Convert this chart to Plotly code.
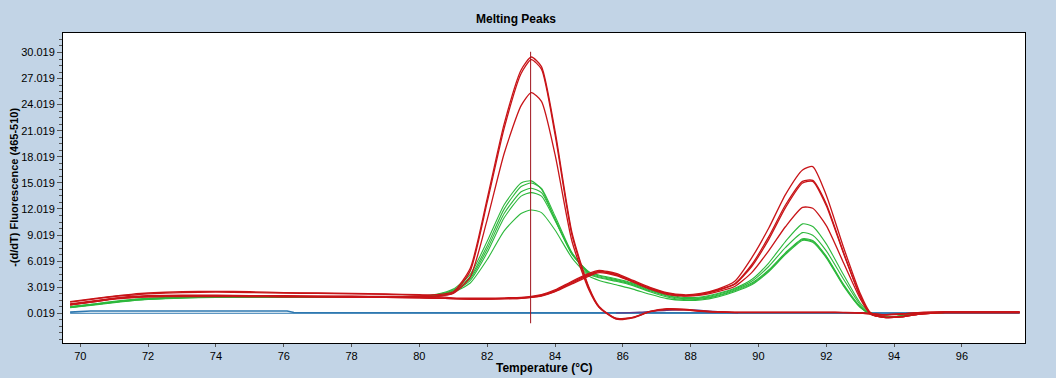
import plotly.graph_objects as go

# ---- data ----
T = [69.7, 70.5, 71.0, 71.5, 72.0, 73.0, 74.0, 75.0, 76.0, 77.0, 78.0, 79.0, 80.0, 80.5,
     81.0, 81.5, 82.0, 82.5, 83.0, 83.3, 83.6, 84.0, 84.5, 85.0, 85.3, 85.8, 86.3, 86.8,
     87.3, 87.8, 88.3, 88.8, 89.3, 89.8, 90.3, 90.8, 91.3, 91.6, 92.0, 92.5, 93.0, 93.3,
     93.7, 94.2, 94.7, 95.5, 96.5, 97.7]

red_a1 = [1.35, 1.75, 2.0, 2.2, 2.35, 2.5, 2.55, 2.5, 2.4, 2.35, 2.3, 2.25, 2.15, 2.15, 2.5,
          5.2, 13.2, 21.8, 28.0, 29.5, 28.4, 21.0, 9.3, 3.0, 0.8, -0.6, -0.45, 0.25, 0.55, 0.5,
          0.3, 0.2, 0.15, 0.15, 0.15, 0.15, 0.15, 0.15, 0.15, 0.12, 0.08, 0.0, -0.15, -0.05,
          0.1, 0.2, 0.2, 0.2]
red_a2 = [1.0, 1.45, 1.7, 1.9, 2.0, 2.05, 2.05, 2.0, 2.0, 1.95, 1.95, 1.9, 1.9, 1.95, 2.35,
          4.9, 12.8, 21.3, 27.6, 29.2, 28.1, 20.6, 9.0, 2.9, 0.7, -0.65, -0.5, 0.2, 0.5, 0.45,
          0.28, 0.18, 0.12, 0.12, 0.12, 0.12, 0.12, 0.12, 0.12, 0.1, 0.05, -0.05, -0.2, -0.1,
          0.05, 0.15, 0.15, 0.15]
red_a3 = [1.1, 1.5, 1.75, 1.95, 2.05, 2.1, 2.1, 2.05, 2.05, 2.0, 2.0, 1.95, 1.95, 2.0, 2.3,
          4.2, 10.8, 18.4, 23.9, 25.4, 24.4, 18.3, 8.3, 2.7, 0.7, -0.55, -0.45, 0.2, 0.45, 0.4,
          0.25, 0.15, 0.1, 0.1, 0.1, 0.1, 0.1, 0.1, 0.1, 0.1, 0.05, -0.05, -0.15, -0.05,
          0.05, 0.15, 0.15, 0.15]

red_b1 = [1.3, 1.7, 1.95, 2.1, 2.25, 2.4, 2.45, 2.4, 2.35, 2.3, 2.25, 2.2, 2.1, 1.95, 1.8,
          1.75, 1.75, 1.8, 1.85, 1.95, 2.15, 2.7, 3.7, 4.6, 4.95, 4.6, 3.8, 3.0, 2.4, 2.15,
          2.3, 2.8, 3.7, 6.4, 9.8, 13.7, 16.5, 16.9, 13.6, 7.7, 2.3, 0.1, -0.4, -0.35, -0.05,
          0.15, 0.15, 0.15]
red_b2 = [1.0, 1.4, 1.7, 1.85, 1.95, 2.0, 2.0, 2.0, 1.95, 1.95, 1.9, 1.9, 1.85, 1.8, 1.7,
          1.65, 1.65, 1.7, 1.8, 1.9, 2.1, 2.6, 3.6, 4.5, 4.85, 4.5, 3.7, 2.9, 2.3, 2.05,
          2.2, 2.7, 3.4, 5.6, 8.8, 12.5, 15.2, 15.3, 12.6, 7.1, 2.0, 0.0, -0.45, -0.4, -0.1,
          0.1, 0.1, 0.1]
red_b3 = [1.05, 1.45, 1.7, 1.85, 1.95, 2.0, 2.0, 1.95, 1.95, 1.9, 1.9, 1.85, 1.8, 1.75, 1.7,
          1.65, 1.65, 1.7, 1.75, 1.85, 2.05, 2.55, 3.5, 4.4, 4.8, 4.45, 3.65, 2.85, 2.3, 2.05,
          2.2, 2.65, 3.35, 5.4, 8.5, 12.2, 15.0, 15.2, 12.4, 7.0, 2.0, 0.0, -0.45, -0.4, -0.1,
          0.1, 0.1, 0.1]
red_b4 = [1.0, 1.4, 1.65, 1.8, 1.9, 1.95, 1.95, 1.95, 1.9, 1.9, 1.85, 1.85, 1.8, 1.75, 1.7,
          1.65, 1.65, 1.7, 1.75, 1.85, 2.0, 2.5, 3.4, 4.3, 4.7, 4.35, 3.6, 2.8, 2.2, 2.0,
          2.1, 2.5, 3.1, 4.7, 7.2, 10.0, 12.2, 12.1, 10.1, 5.9, 1.7, -0.1, -0.45, -0.4, -0.1,
          0.1, 0.1, 0.1]

green_1 = [0.8, 1.15, 1.4, 1.6, 1.75, 1.9, 1.95, 1.95, 1.95, 1.95, 1.95, 1.95, 2.0, 2.2, 2.8,
           4.5, 8.3, 12.5, 15.0, 15.25, 14.3, 10.8, 6.8, 4.8, 4.4, 4.0, 3.5, 2.8, 2.2, 1.85,
           1.9, 2.3, 2.9, 3.9, 5.8, 8.3, 10.3, 10.0, 8.0, 4.5, 1.2, 0.1, -0.35, -0.3, 0.0,
           0.1, 0.1, 0.1]
green_2 = [0.75, 1.1, 1.35, 1.55, 1.7, 1.85, 1.9, 1.9, 1.9, 1.9, 1.9, 1.9, 1.95, 2.15, 2.7,
           4.2, 7.8, 12.0, 14.6, 15.0, 14.4, 11.2, 7.0, 4.7, 4.3, 3.9, 3.4, 2.7, 2.1, 1.75,
           1.8, 2.2, 2.8, 3.7, 5.4, 7.6, 9.3, 9.0, 7.2, 4.0, 1.0, 0.0, -0.4, -0.3, 0.0,
           0.1, 0.1, 0.1]
green_3 = [0.7, 1.05, 1.3, 1.5, 1.65, 1.8, 1.9, 1.9, 1.9, 1.9, 1.9, 1.9, 1.95, 2.1, 2.6,
           4.0, 7.4, 11.5, 14.0, 14.4, 13.9, 10.9, 6.9, 4.6, 4.2, 3.8, 3.3, 2.6, 2.0, 1.7,
           1.75, 2.1, 2.7, 3.5, 5.0, 7.0, 8.6, 8.4, 6.6, 3.4, 0.8, -0.05, -0.4, -0.3, 0.0,
           0.1, 0.1, 0.1]
green_4 = [0.7, 1.05, 1.3, 1.5, 1.65, 1.8, 1.85, 1.85, 1.85, 1.85, 1.85, 1.85, 1.9, 2.05, 2.5,
           3.8, 7.0, 11.0, 13.5, 13.9, 13.5, 10.7, 6.9, 4.5, 4.1, 3.7, 3.2, 2.5, 1.9, 1.6,
           1.65, 2.0, 2.6, 3.4, 4.9, 6.9, 8.5, 8.3, 6.5, 3.3, 0.7, -0.05, -0.4, -0.3, 0.0,
           0.1, 0.1, 0.1]
green_5 = [0.65, 1.0, 1.25, 1.45, 1.6, 1.75, 1.85, 1.85, 1.85, 1.85, 1.85, 1.85, 1.9, 2.0, 2.4,
           3.5, 6.2, 9.5, 11.5, 11.9, 11.6, 9.6, 6.4, 4.3, 3.8, 3.3, 2.8, 2.2, 1.7, 1.5,
           1.55, 1.9, 2.5, 3.3, 4.8, 6.8, 8.4, 8.2, 6.4, 3.2, 0.7, -0.05, -0.4, -0.3, 0.0,
           0.1, 0.1, 0.1]

blue_a_t = [69.7, 70.3, 76.1, 76.3, 97.7]
blue_a = [0.15, 0.28, 0.28, 0.1, 0.05]
blue_b_t = [69.7, 97.7]
blue_b = [0.02, 0.02]
purple_t = [85.8, 86.5, 87.3, 88.0, 88.8, 89.4]
purple = [0.05, 0.15, 0.35, 0.4, 0.2, 0.05]

cursor_temp = [83.28, 83.28]
cursor_y = [-1.13, 30.1]

y_ticks = [0.019, 3.019, 6.019, 9.019, 12.019, 15.019, 18.019, 21.019, 24.019, 27.019, 30.019]
x_ticks = [70, 72, 74, 76, 78, 80, 82, 84, 86, 88, 90, 92, 94, 96]

RED = "#C81418"
GREEN = "#2DB83C"
BLUE = "#2E78B0"
BG = "#C2D4E6"
FONT = "Liberation Sans, Arial, sans-serif"

fig = go.Figure()

fig.add_trace(go.Scatter(x=blue_b_t, y=blue_b, mode="lines", line=dict(color=BLUE, width=1)))
fig.add_trace(go.Scatter(x=blue_a_t, y=blue_a, mode="lines", line=dict(color=BLUE, width=1.6)))
fig.add_trace(go.Scatter(x=purple_t, y=purple, mode="lines",
                         line=dict(color="#5B3C8C", width=1.2, shape="spline")))

for g in [green_1, green_2, green_3, green_4, green_5]:
    fig.add_trace(go.Scatter(x=T, y=g, mode="lines",
                             line=dict(color=GREEN, width=1.1, shape="spline", smoothing=0.6)))

for r in [red_b1, red_b2, red_b3, red_b4, red_a3, red_a2, red_a1]:
    fig.add_trace(go.Scatter(x=T, y=r, mode="lines",
                             line=dict(color=RED, width=1.3, shape="spline", smoothing=0.6)))

fig.add_trace(go.Scatter(x=cursor_temp, y=cursor_y, mode="lines",
                         line=dict(color="#A0141C", width=1)))

fig.update_layout(
    width=1056, height=378,
    paper_bgcolor=BG, plot_bgcolor="white",
    margin=dict(l=63, r=31, t=33, b=35),
    showlegend=False,
    font=dict(family=FONT, size=11, color="black"),
    annotations=[
        dict(text="<b>Melting Peaks</b>", xref="paper", yref="paper", x=0.471, y=1.045,
             xanchor="center", yanchor="middle", showarrow=False,
             font=dict(family=FONT, size=12, color="black")),
        dict(text="<b>Temperature (°C)</b>", xref="paper", yref="paper", x=0.501, y=-0.080,
             xanchor="center", yanchor="middle", showarrow=False,
             font=dict(family=FONT, size=12, color="black")),
        dict(text="<b>-(d/dT) Fluorescence (465-510)</b>", xref="paper", yref="paper",
             x=-0.0505, y=0.502, xanchor="center", yanchor="middle", textangle=-90,
             showarrow=False, font=dict(family=FONT, size=11, color="black")),
    ],
)

fig.update_xaxes(range=[69.49, 97.86], tickvals=x_ticks, ticks="outside", ticklen=3,
                 tickcolor="#555555", showgrid=False, zeroline=False, showline=True,
                 linecolor="black", linewidth=1, mirror=True,
                 tickfont=dict(family=FONT, size=11, color="black"))
fig.update_yaxes(range=[-3.40, 32.26], tickvals=y_ticks, ticktext=[f"{v:.3f}" for v in y_ticks],
                 ticks="outside", ticklen=5, tickcolor="#555555",
                 minor=dict(dtick=0.75, tick0=0.019, ticks="outside", ticklen=3, tickcolor="#555555"),
                 showgrid=False, zeroline=False, showline=True,
                 linecolor="black", linewidth=1, mirror=True,
                 tickfont=dict(family=FONT, size=11, color="black"))

fig.write_html(
    "out.html",
    config={"displayModeBar": False},
    post_script="document.body.style.margin='0';document.body.style.padding='0';"
                "document.body.style.overflow='hidden';"
                "document.body.style.background='" + BG + "';",
)
